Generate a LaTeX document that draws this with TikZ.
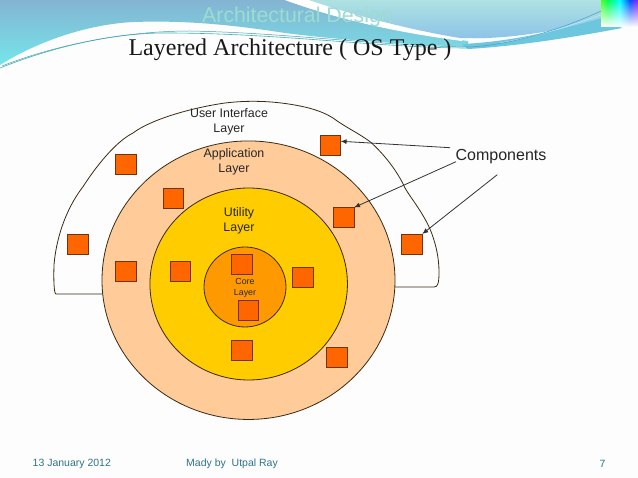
\documentclass[tikz,border=0pt]{standalone}
\usepackage{fontspec}
\setmainfont{Liberation Sans}
\newfontfamily\titlefont{Liberation Serif}
\usetikzlibrary{shapes.geometric,arrows.meta,fadings}
\definecolor{pagebg}{HTML}{FDFDFD}
\definecolor{edge}{HTML}{3A2A14}
\definecolor{sq}{HTML}{FF6600}
\definecolor{sqedge}{HTML}{6E3410}
\definecolor{appfill}{HTML}{FFCC99}
\definecolor{utilfill}{HTML}{FFCC00}
\definecolor{corefill}{HTML}{FF9900}
\definecolor{foot}{HTML}{2F7488}
\definecolor{ghost}{HTML}{9CDCD2}
\definecolor{lefttop}{HTML}{84B4D2}
\definecolor{leftbot}{HTML}{74E6EA}
\definecolor{righttop}{HTML}{AEE2E2}
\definecolor{rightbot}{HTML}{8CC2E8}
\definecolor{bandc}{HTML}{6CC6DE}
\definecolor{tealline}{HTML}{3DB6AE}
\definecolor{blueline}{HTML}{4A9CC4}
\pgfdeclarehorizontalshading{rainbowshade}{100bp}{
 color(0bp)=(orange!70!yellow);
 color(16bp)=(yellow!60!green);
 color(34bp)=(green!70!cyan);
 color(50bp)=(cyan);
 color(64bp)=(blue!70!cyan);
 color(82bp)=(magenta);
 color(100bp)=(red!60!magenta)}
\tikzset{
 x=1pt,y=-1pt,
 comp/.style={rectangle,draw=sqedge,line width=0.9pt,fill=sq,minimum width=20.5pt,minimum height=20pt,inner sep=0pt,outer sep=0pt},
 layer/.style={ellipse,draw=edge,line width=0.8pt,inner sep=0pt,outer sep=0pt},
 lab/.style={align=center,text=black!85,font=\fontsize{12.4}{14.7}\selectfont,inner sep=0pt},
 footer/.style={text=foot,font=\fontsize{10.5}{12}\selectfont,inner sep=0pt},
 pointer/.style={draw=black!80,line width=0.8pt,-{Latex[length=6pt,width=5pt]}}
}
\begin{document}
\begin{tikzpicture}
\useasboundingbox (0,0) rectangle (638,478);
\fill[pagebg] (0,0) rectangle (638,478);
% banner
\shade[top color=lefttop,bottom color=leftbot]
 (0,0) -- (285,0) .. controls (340,20) and (400,33) .. (468,41)
 -- (468,47) .. controls (400,44) and (340,40) .. (285,33)
 .. controls (240,26) and (190,20) .. (134,22)
 .. controls (90,24) and (40,40) .. (0,65) -- cycle;
\fill[white] (285,0) -- (309,0) .. controls (350,14) and (410,30) .. (462,38) -- (462,41) .. controls (400,33) and (340,20) .. (285,0) -- cycle;
\shade[top color=righttop,bottom color=rightbot]
 (309,0) .. controls (350,14) and (410,30) .. (460,38)
 .. controls (510,40) and (560,30) .. (600,20) -- (638,20) -- (638,0) -- cycle;
\fill[bandc] (462,44) .. controls (510,42) and (560,30) .. (602,18) -- (622,28)
 .. controls (580,36) and (520,46) .. (468,49) -- cycle;
\draw[white!70!cyan,line width=0.7pt] (500,43) .. controls (540,36) and (575,24) .. (601,15);
\draw[tealline,line width=0.6pt] (0,68) .. controls (50,48) and (110,33) .. (165,33) .. controls (280,33) and (380,48) .. (468,48);
\draw[blueline,line width=0.5pt] (2,66) .. controls (50,47) and (120,31) .. (190,31) .. controls (290,33) and (380,46) .. (470,47)
 .. controls (510,45) and (560,30) .. (601,11);
\fill[white] (601,0) rectangle (638,27);
\shade[shading=rainbowshade] (601,0) rectangle (638,27);
\fill[white,path fading=north] (601,0) rectangle (638,27);
% layers
\draw[edge,line width=0.8pt,fill=pagebg] (102.7,294) -- (56,294)
 .. controls (54,294) and (53.5,280) .. (54,265)
 .. controls (56,240) and (65,210) .. (83,186.7)
 .. controls (95,168) and (115,142) .. (133,133)
 .. controls (150,120) and (190,108) .. (225,103)
 .. controls (250,100) and (275,101) .. (300,106)
 .. controls (315,109) and (325,113) .. (333,118)
 .. controls (345,127) and (360,134) .. (370,141.7)
 .. controls (382,152) and (397,170) .. (405,188)
 .. controls (410,197) and (425,215) .. (431.7,233.3)
 .. controls (436,245) and (439,258) .. (439,272)
 .. controls (439,283) and (438,287) .. (434,287)
 -- (395,287);
\node[layer,fill=appfill,minimum width=293pt,minimum height=278.5pt] (app) at (248.5,280.2) {};
\node[layer,fill=utilfill,minimum width=197.5pt,minimum height=192pt] (util) at (248.7,284) {};
\node[layer,fill=corefill,minimum width=82pt,minimum height=80pt] (core) at (245,287) {};
% labels
\node[lab] (uilab) at (229,122) {User Interface\\Layer};
\node[lab] (applab) at (234,161.5) {Application\\Layer};
\node[lab] (utillab) at (239,221) {Utility\\Layer};
\node[lab,font=\fontsize{8.8}{10.6}\selectfont] (corelab) at (245,288) {Core\\Layer};
\node[inner sep=0pt,text=black!85,font=\fontsize{16}{18}\selectfont] (complab) at (501,156.5) {Components};
% components
\node[comp] (a) at (125.8,164.7) {};
\node[comp] (b) at (173.5,198) {};
\node[comp] (c) at (78,244) {};
\node[comp] (d) at (125.8,271) {};
\node[comp] (e) at (180.3,271) {};
\node[comp] (f) at (241.8,264) {};
\node[comp] (g) at (302.8,277.5) {};
\node[comp] (h) at (248.6,310.5) {};
\node[comp] (i) at (242,350.3) {};
\node[comp] (j) at (337,357) {};
\node[comp] (k) at (330.3,145) {};
\node[comp] (l) at (343.8,217.5) {};
\node[comp] (m) at (412,244) {};
% pointers
\coordinate (p1) at (450,147.7);
\coordinate (p2) at (456,161.7);
\coordinate (p3) at (497.3,174.7);
\draw[pointer] (p1) -- (k.20);
\draw[pointer] (p2) -- (l.north east);
\draw[pointer] (p3) -- (m.north east);
% titles
\node[inner sep=0pt,text=ghost,font=\fontsize{21.3}{24}\selectfont] (ghosttitle) at (297.5,17) {Architectural Design};
\node[inner sep=0pt,text=black!90,font=\titlefont\fontsize{24}{26}\selectfont] (title) at (290,50) {Layered Architecture ( OS Type )};
% footer
\node[footer,anchor=west] (fdate) at (32.5,464) {13 January 2012};
\node[footer,anchor=west] (fby) at (186,464) {Mady by\ \ Utpal Ray};
\node[footer] (fnum) at (602.5,464) {7};
\end{tikzpicture}
\end{document}
